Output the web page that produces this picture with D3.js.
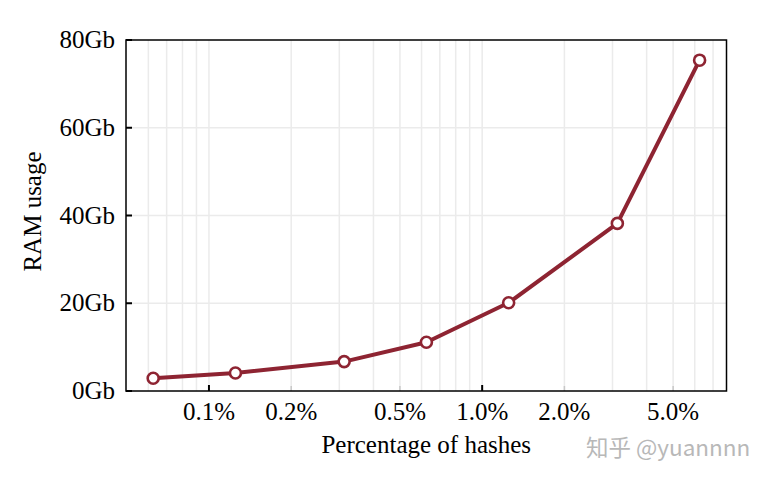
<!DOCTYPE html>
<html>
<head>
<meta charset="utf-8">
<script src="https://cdn.jsdelivr.net/npm/d3@7"></script>
<style>
  html, body { margin: 0; padding: 0; background: #fff; }
  svg { display: block; }
</style>
</head>
<body>
<svg id="chart" width="771" height="487"></svg>
<script>
// ---- data ----
const hashPercent = [0.0625, 0.125, 0.3125, 0.625, 1.25, 3.125, 6.25];
const ramGb = [2.9, 4.1, 6.7, 11.1, 20.1, 38.2, 75.4];
const xMajorTicks = [0.1, 1.0];
const xLabelTicks = [0.1, 0.2, 0.5, 1.0, 2.0, 5.0];
const xLabelTexts = ["0.1%", "0.2%", "0.5%", "1.0%", "2.0%", "5.0%"];
const xGridTicks = [0.06, 0.07, 0.08, 0.09, 0.1, 0.2, 0.3, 0.4, 0.5, 0.6, 0.7, 0.8, 0.9, 1, 2, 3, 4, 5, 6, 7];
const yTicks = [0, 20, 40, 60, 80];
const yTickLabels = ["0Gb", "20Gb", "40Gb", "60Gb", "80Gb"];
const xTitle = "Percentage of hashes";
const yTitle = "RAM usage";
const watermark = "知乎 @yuannnn";

// ---- layout ----
const pLeft = 126, pRight = 726.5, pTop = 40, pBottom = 391;
const lineColor = "#8e2432";
const serif = "'Liberation Serif', 'Times New Roman', serif";
const fs = 25;

const svg = d3.select("#chart");
const x = d3.scaleLog().domain([0.0497, 7.84]).range([pLeft, pRight]);
const y = d3.scaleLinear().domain([0, 80]).range([pBottom, pTop]);

// grid
const grid = svg.append("g");
grid.selectAll("line.vg").data(xGridTicks).enter().append("line")
  .attr("x1", d => x(d)).attr("x2", d => x(d))
  .attr("y1", pTop).attr("y2", pBottom)
  .attr("stroke", "#ebebeb").attr("stroke-width", 1.5);
grid.selectAll("line.hg").data(yTicks.slice(1, -1)).enter().append("line")
  .attr("x1", pLeft).attr("x2", pRight)
  .attr("y1", d => y(d)).attr("y2", d => y(d))
  .attr("stroke", "#ebebeb").attr("stroke-width", 1.5);

// minor labelled ticks (grey) on bottom
svg.append("g").selectAll("line").data(xLabelTicks.filter(d => !xMajorTicks.includes(d))).enter().append("line")
  .attr("x1", d => x(d)).attr("x2", d => x(d))
  .attr("y1", pBottom).attr("y2", pBottom - 5)
  .attr("stroke", "#c8c8c8").attr("stroke-width", 1.5);
// major ticks (black)
svg.append("g").selectAll("line").data(xMajorTicks).enter().append("line")
  .attr("x1", d => x(d)).attr("x2", d => x(d))
  .attr("y1", pBottom).attr("y2", pBottom - 6)
  .attr("stroke", "#000").attr("stroke-width", 2);
svg.append("g").selectAll("line").data(yTicks).enter().append("line")
  .attr("x1", pLeft).attr("x2", pLeft + 6)
  .attr("y1", d => y(d)).attr("y2", d => y(d))
  .attr("stroke", "#000").attr("stroke-width", 2);

// frame
svg.append("rect")
  .attr("x", pLeft).attr("y", pTop)
  .attr("width", pRight - pLeft).attr("height", pBottom - pTop)
  .attr("fill", "none").attr("stroke", "#000").attr("stroke-width", 1.5);

// tick labels
svg.append("g").selectAll("text").data(xLabelTicks).enter().append("text")
  .attr("x", d => x(d)).attr("y", 420)
  .attr("text-anchor", "middle")
  .attr("font-family", serif).attr("font-size", fs)
  .text((d, i) => xLabelTexts[i]);
svg.append("g").selectAll("text").data(yTicks).enter().append("text")
  .attr("x", 115).attr("y", d => y(d) + 8)
  .attr("text-anchor", "end")
  .attr("font-family", serif).attr("font-size", fs)
  .text((d, i) => yTickLabels[i]);

// axis titles
svg.append("text")
  .attr("x", (pLeft + pRight) / 2).attr("y", 453)
  .attr("text-anchor", "middle")
  .attr("font-family", serif).attr("font-size", fs)
  .text(xTitle);
svg.append("text")
  .attr("transform", `translate(41, ${(pTop + pBottom) / 2 - 4}) rotate(-90)`)
  .attr("text-anchor", "middle")
  .attr("font-family", serif).attr("font-size", fs)
  .text(yTitle);

// line
const pts = hashPercent.map((p, i) => [p, ramGb[i]]);
svg.append("path")
  .datum(pts)
  .attr("d", d3.line().x(d => x(d[0])).y(d => y(d[1])))
  .attr("fill", "none").attr("stroke", lineColor)
  .attr("stroke-width", 4).attr("stroke-linejoin", "round");
svg.append("g").selectAll("circle").data(pts).enter().append("circle")
  .attr("cx", d => x(d[0])).attr("cy", d => y(d[1]))
  .attr("r", 5.5)
  .attr("fill", "#fff").attr("stroke", lineColor).attr("stroke-width", 2.6);

// watermark
svg.append("text")
  .attr("x", 586).attr("y", 456)
  .attr("font-family", "'Noto Sans CJK SC', 'Noto Sans', sans-serif")
  .attr("font-size", 22.5).attr("fill", "#b8b8b8")
  .text(watermark);
</script>
</body>
</html>
